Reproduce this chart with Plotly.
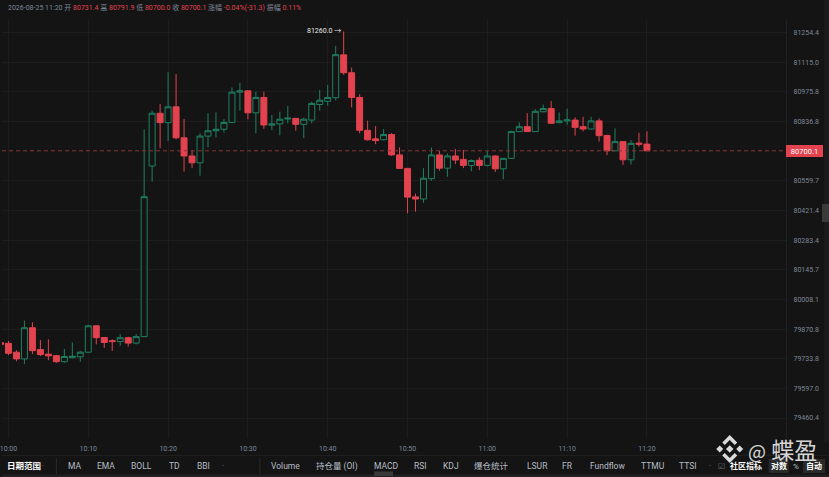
import math
import pandas as pd
import plotly.graph_objects as go

W, H = 829, 477
BG = "#141414"
GRID = "#1d1d1d"
AXIS_TXT = "#7f8896"
RED = "#e2434f"
GREEN = "#1f8062"
FONT = "Roboto, 'Noto Sans CJK SC', sans-serif"

# ---------------- data ----------------
times = pd.date_range("2026-08-25 09:59", periods=82, freq="min")

opens = [79808, 79805, 79764, 79733, 79877, 79776, 79755, 79748, 79720, 79739,
         79743, 79764, 79886, 79832, 79817, 79813, 79831, 79806, 79836, 80629,
         80876, 80832, 80906, 80761, 80676, 80644, 80769, 80794, 80801, 80833,
         80975, 80981, 80878, 80950, 80820, 80826, 80849, 80852, 80824, 80844,
         80917, 80932, 80949, 81150, 81066, 80950, 80796, 80756, 80752, 80776,
         80681, 80618, 80485, 80475, 80570, 80681, 80619, 80676, 80660, 80632,
         80656, 80632, 80676, 80616, 80665, 80790, 80813, 80790, 80883, 80898,
         80832, 80840, 80844, 80813, 80802, 80840, 80772, 80700, 80743, 80658,
         80736, 80731.4]
highs = [79812, 79816, 79773, 79910, 79902, 79820, 79823, 79751, 79779, 79809,
         79770, 79890, 79888, 79833, 79824, 79847, 79836, 79848, 80801, 80888,
         80919, 81068, 81060, 80849, 80704, 80782, 80876, 80880, 80849, 80997,
         81019, 80984, 80977, 80977, 80868, 80883, 80910, 80853, 80855, 80930,
         80985, 81009, 81192, 81260.0, 81090, 80965, 80841, 80816, 80801, 80783,
         80716, 80620, 80500, 80619, 80716, 80699, 80688, 80709, 80704, 80660,
         80670, 80699, 80678, 80667, 80794, 80834, 80876, 80895, 80917, 80933,
         80880, 80898, 80857, 80859, 80859, 80852, 80775, 80805, 80745, 80750,
         80785, 80791.9]
lows = [79795, 79750, 79722, 79710, 79755, 79746, 79727, 79715, 79715, 79735,
        79720, 79762, 79800, 79784, 79770, 79794, 79790, 79800, 79834, 80556,
        80712, 80746, 80754, 80603, 80620, 80584, 80716, 80763, 80785, 80829,
        80888, 80847, 80782, 80803, 80797, 80773, 80829, 80794, 80760, 80829,
        80888, 80912, 80937, 81056, 80903, 80782, 80748, 80731, 80749, 80677,
        80615, 80408, 80416, 80458, 80561, 80607, 80579, 80638, 80619, 80605,
        80611, 80627, 80601, 80567, 80662, 80788, 80788, 80789, 80880, 80827,
        80829, 80821, 80771, 80791, 80800, 80743, 80680, 80699, 80634, 80636,
        80720, 80700.0]
closes = [79800, 79759, 79733, 79877, 79771, 79753, 79747, 79720, 79744, 79745,
          79764, 79886, 79831, 79809, 79813, 79831, 79806, 79836, 80486, 80876,
          80832, 80906, 80761, 80676, 80644, 80769, 80794, 80801, 80833, 80975,
          80981, 80878, 80950, 80821, 80826, 80848, 80853, 80824, 80848, 80922,
          80937, 80950, 81151, 81066, 80950, 80796, 80752, 80748, 80776, 80681,
          80618, 80484, 80475, 80572, 80681, 80619, 80676, 80657, 80632, 80655,
          80632, 80676, 80616, 80665, 80790, 80813, 80790, 80885, 80898, 80829,
          80840, 80845, 80810, 80802, 80840, 80771, 80700, 80743, 80658, 80735,
          80731.4, 80700.1]

price_ticks = [81254.4, 81115.0, 80975.8, 80836.8, 80559.7, 80421.4, 80283.4,
               80145.7, 80008.1, 79870.8, 79733.8, 79597.0, 79460.4]
time_ticks = ["2026-08-25 10:00", "2026-08-25 10:10", "2026-08-25 10:20",
              "2026-08-25 10:30", "2026-08-25 10:40", "2026-08-25 10:50",
              "2026-08-25 11:00", "2026-08-25 11:10", "2026-08-25 11:20"]
time_tick_text = ["10:00", "10:10", "10:20", "10:30", "10:40", "10:50",
                  "11:00", "11:10", "11:20"]

header_items = [("2026-08-25 11:20", False), ("开", False), ("80731.4", True),
                ("高", False), ("80791.9", True), ("低", False), ("80700.0", True),
                ("收", False), ("80700.1", True), ("涨幅", False),
                ("-0.04%(-31.3)", True), ("振幅", False), ("0.11%", True)]

toolbar_items = [("日期范围", 22, "#ffffff", True, 8.5), ("·", 41, "#6b717a", False, 8.5),
                 ("MA", 73, "#b7bdc6", False, 8.5), ("EMA", 104.5, "#b7bdc6", False, 8.5),
                 ("BOLL", 140, "#b7bdc6", False, 8.5), ("TD", 172.5, "#b7bdc6", False, 8.5),
                 ("BBI", 201.5, "#b7bdc6", False, 8.5), ("·", 222, "#6b717a", False, 8.5),
                 ("Volume", 284, "#b7bdc6", False, 8.5), ("持仓量 (OI)", 336, "#b7bdc6", False, 8.5),
                 ("MACD", 385, "#b7bdc6", False, 8.5), ("RSI", 420, "#b7bdc6", False, 8.5),
                 ("KDJ", 450.5, "#b7bdc6", False, 8.5), ("爆仓统计", 491, "#b7bdc6", False, 8.5),
                 ("LSUR", 537, "#b7bdc6", False, 8.5), ("FR", 566.7, "#b7bdc6", False, 8.5),
                 ("Fundflow", 606.5, "#b7bdc6", False, 8.5), ("TTMU", 652, "#b7bdc6", False, 8.5),
                 ("TTSI", 688, "#b7bdc6", False, 8.5), ("·", 709.5, "#6b717a", False, 8.5),
                 ("社区指标", 745.5, "#ffffff", True, 8), ("对数", 778.5, "#ffffff", True, 8),
                 ("%", 796, "#b7bdc6", False, 8), ("自动", 814, "#ffffff", True, 8)]

last_price = closes[-1]
max_high = max(highs)
max_idx = highs.index(max_high)


def px(x):
    return x / W


def py(y):
    return 1 - y / H


# ---------------- figure ----------------
fig = go.Figure()
fig.add_trace(go.Candlestick(
    x=times, open=opens, high=highs, low=lows, close=closes,
    increasing=dict(line=dict(color=GREEN, width=1), fillcolor=BG),
    decreasing=dict(line=dict(color=RED, width=1), fillcolor=RED),
    whiskerwidth=0, hoverinfo="skip", showlegend=False,
))

PLOT_TOP, PLOT_BOTTOM, PLOT_RIGHT = 20, 438, 786

fig.update_layout(
    width=W, height=H,
    margin=dict(l=0, r=0, t=0, b=0),
    paper_bgcolor=BG, plot_bgcolor=BG,
    font=dict(family=FONT, size=7, color=AXIS_TXT),
    boxgap=0.25, boxgroupgap=0,
    showlegend=False,
    xaxis=dict(
        type="date", domain=[0, px(PLOT_RIGHT)],
        range=["2026-08-25 09:59:11.25", "2026-08-25 11:37:26.25"],
        tickvals=time_ticks, ticktext=time_tick_text,
        showgrid=True, gridcolor=GRID, gridwidth=1,
        zeroline=False, showline=False, ticks="",
        ticklabeloverflow="allow", ticklabelstandoff=5,
        tickfont=dict(size=7, color=AXIS_TXT),
        rangeslider=dict(visible=False), fixedrange=True,
    ),
    yaxis=dict(
        type="log", side="right",
        domain=[py(PLOT_BOTTOM), py(PLOT_TOP)],
        range=[math.log10(79368.4), math.log10(81314.1)],
        tickvals=price_ticks, ticktext=[f"{v:.1f}" for v in price_ticks],
        showgrid=True, gridcolor=GRID, gridwidth=1,
        zeroline=False, showline=True, linecolor="#222222", linewidth=1,
        ticks="", ticklabelstandoff=5, ticklabeloverflow="allow",
        tickfont=dict(size=7, color=AXIS_TXT), fixedrange=True,
    ),
)

shapes = []
# current price dashed line
shapes.append(dict(type="line", xref="x domain", yref="y", x0=0, x1=1,
                   y0=last_price, y1=last_price,
                   line=dict(color="#8a3439", width=1, dash="4px,3px")))
# separator between chart and toolbar
shapes.append(dict(type="line", xref="paper", yref="paper", x0=0, x1=1,
                   y0=py(455.5), y1=py(455.5), line=dict(color="#1f1f1f", width=1)))
# toolbar separators
for sx in (54.5, 258.5):
    shapes.append(dict(type="line", xref="paper", yref="paper", x0=px(sx), x1=px(sx),
                       y0=py(458), y1=py(474), line=dict(color="#2a2a2a", width=1)))
# bottom strip
shapes.append(dict(type="rect", xref="paper", yref="paper", x0=0, x1=1,
                   y0=py(477), y1=py(474.5), fillcolor="#202020", line=dict(width=0)))
# bottom handle
shapes.append(dict(type="rect", xref="paper", yref="paper", x0=px(373), x1=px(392),
                   y0=py(476), y1=py(471.5), fillcolor="#3a3a3a", line=dict(width=0)))
# right scroll strip
shapes.append(dict(type="rect", xref="paper", yref="paper", x0=px(824), x1=px(829),
                   y0=py(442), y1=py(0), fillcolor="#1b1b1b", line=dict(width=0)))
shapes.append(dict(type="rect", xref="paper", yref="paper", x0=px(822), x1=px(829),
                   y0=py(222), y1=py(204), fillcolor="#3a3a3a", line=dict(width=0)))
# toolbar highlighted buttons
for bx0, bx1 in ((768.5, 788.5), (803, 825)):
    shapes.append(dict(type="rect", xref="paper", yref="paper", x0=px(bx0), x1=px(bx1),
                       y0=py(473), y1=py(459), fillcolor="#2a2a2a", line=dict(width=0)))


# watermark logo
def poly(points, cx=729.5, cy=449.0):
    parts = []
    for i, (dx, dy) in enumerate(points):
        parts.append(("M" if i == 0 else "L") + f"{px(cx + dx):.5f},{py(cy + dy):.5f}")
    return " ".join(parts) + " Z"


logo_parts = [
    [(0, -3.8), (3.8, 0), (0, 3.8), (-3.8, 0)],
    [(-10, -3.5), (-6.5, 0), (-10, 3.5), (-13.5, 0)],
    [(10, -3.5), (13.5, 0), (10, 3.5), (6.5, 0)],
    [(0, -14), (7.5, -6.5), (5, -4), (0, -9), (-5, -4), (-7.5, -6.5)],
    [(0, 14), (7.5, 6.5), (5, 4), (0, 9), (-5, 4), (-7.5, 6.5)],
]
for pts in logo_parts:
    shapes.append(dict(type="path", xref="paper", yref="paper", path=poly(pts),
                       fillcolor="rgba(240,240,240,0.9)", line=dict(width=0)))

fig.update_layout(shapes=shapes)

ann = []
# header
hdr = " ".join(
    f'<span style="color:{RED if is_val else AXIS_TXT}">{t}</span>'
    for t, is_val in header_items)
ann.append(dict(text=hdr, xref="paper", yref="paper", x=px(4), y=py(7.5),
                xanchor="left", yanchor="middle", showarrow=False,
                font=dict(size=7, family=FONT)))
# current price label
ann.append(dict(text=f"{last_price:.1f}", xref="paper", yref="y",
                x=px(786), y=math.log10(last_price), xanchor="left", yanchor="middle",
                showarrow=False, bgcolor=RED, width=33, height=8, borderpad=1,
                borderwidth=1, bordercolor=RED,
                font=dict(size=7.5, color="#ffffff", family=FONT)))
# max high label
ann.append(dict(text=f"{max_high:.1f} →", xref="x", yref="y",
                x=times[max_idx], y=math.log10(max_high), xanchor="right",
                yanchor="middle", xshift=-1, showarrow=False,
                font=dict(size=7, color="#e6e6e6", family=FONT)))
# toolbar
for text, cx, col, bold, fs in toolbar_items:
    t = f"<b>{text}</b>" if bold else text
    ann.append(dict(text=t, xref="paper", yref="paper", x=px(cx), y=py(466),
                    xanchor="center", yanchor="middle", showarrow=False,
                    font=dict(size=fs, color=col, family=FONT)))
ann.append(dict(text="☑", xref="paper", yref="paper", x=px(721.5), y=py(466),
                xanchor="center", yanchor="middle", showarrow=False,
                font=dict(size=8, color="#6b717a", family="DejaVu Sans")))
# watermark text
ann.append(dict(text='<span style="font-size:19px">@</span> 蝶盈', xref="paper", yref="paper",
                x=px(746), y=py(449), xanchor="left", yanchor="middle", showarrow=False,
                font=dict(size=23, color="rgba(240,240,240,0.9)",
                          family="'Noto Sans CJK SC', sans-serif")))
fig.update_layout(annotations=ann)

fig.write_html("out.html", config={"displayModeBar": False},
               post_script="document.body.style.margin='0';document.body.style.overflow='hidden';")
